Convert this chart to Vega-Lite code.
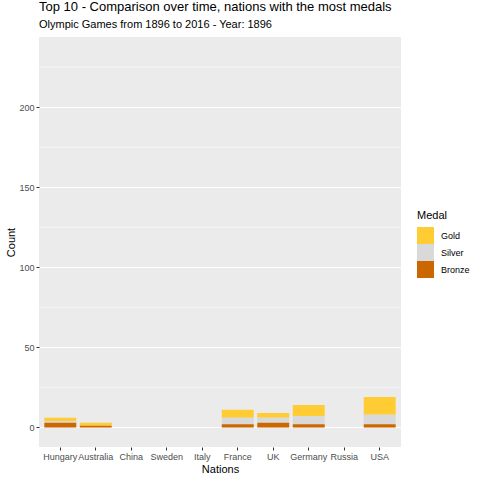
{
  "$schema": "https://vega.github.io/schema/vega-lite/v6.json",
  "autosize": "none",
  "width": 362,
  "height": 410,
  "padding": {"left": 39, "top": 37, "right": 79, "bottom": 33},
  "background": "white",
  "config": {
    "font": "Liberation Sans",
    "view": {"fill": "#EBEBEB", "stroke": null},
    "axis": {
      "labelFont": "Liberation Sans", "titleFont": "Liberation Sans",
      "labelColor": "#4D4D4D", "labelFontSize": 9, "titleFontSize": 11,
      "titleFontWeight": "normal", "titleColor": "black",
      "tickColor": "#333333", "tickSize": 3, "domain": false,
      "gridColor": "white", "gridWidth": 1.1
    },
    "legend": {"labelFont": "Liberation Sans", "titleFont": "Liberation Sans"}
  },
  "title": {
    "text": "Top 10 - Comparison over time, nations with the most medals",
    "subtitle": "Olympic Games from 1896 to 2016 - Year: 1896",
    "anchor": "start", "frame": "group",
    "font": "Liberation Sans", "fontSize": 13, "fontWeight": "normal", "color": "black",
    "subtitleFont": "Liberation Sans", "subtitleFontSize": 11, "subtitleColor": "black",
    "subtitlePadding": 5, "offset": 7
  },
  "layer": [
    {
      "data": {"values": [{"v": 25}, {"v": 75}, {"v": 125}, {"v": 175}, {"v": 225}]},
      "mark": {"type": "rule", "color": "white", "strokeWidth": 0.55},
      "encoding": {"y": {"field": "v", "type": "quantitative"}}
    },
    {
      "data": {"values": [
        {"Nation": "Hungary", "Medal": "Gold", "Count": 2},
        {"Nation": "Hungary", "Medal": "Silver", "Count": 1},
        {"Nation": "Hungary", "Medal": "Bronze", "Count": 3},
        {"Nation": "Australia", "Medal": "Gold", "Count": 2},
        {"Nation": "Australia", "Medal": "Silver", "Count": 0},
        {"Nation": "Australia", "Medal": "Bronze", "Count": 1},
        {"Nation": "France", "Medal": "Gold", "Count": 5},
        {"Nation": "France", "Medal": "Silver", "Count": 4},
        {"Nation": "France", "Medal": "Bronze", "Count": 2},
        {"Nation": "UK", "Medal": "Gold", "Count": 3},
        {"Nation": "UK", "Medal": "Silver", "Count": 3},
        {"Nation": "UK", "Medal": "Bronze", "Count": 3},
        {"Nation": "Germany", "Medal": "Gold", "Count": 7},
        {"Nation": "Germany", "Medal": "Silver", "Count": 5},
        {"Nation": "Germany", "Medal": "Bronze", "Count": 2},
        {"Nation": "USA", "Medal": "Gold", "Count": 11},
        {"Nation": "USA", "Medal": "Silver", "Count": 6},
        {"Nation": "USA", "Medal": "Bronze", "Count": 2}
      ]},
      "mark": {"type": "bar"},
      "encoding": {
        "x": {
          "field": "Nation", "type": "nominal", "title": "Nations",
          "scale": {
            "domain": ["Hungary", "Australia", "China", "Sweden", "Italy", "France", "UK", "Germany", "Russia", "USA"],
            "paddingInner": 0.1, "paddingOuter": 0.15
          },
          "axis": {"labelAngle": 0, "bandPosition": 0.5, "labelPadding": 2, "titlePadding": 2}
        },
        "y": {
          "field": "Count", "type": "quantitative", "aggregate": "sum", "stack": "zero", "title": "Count",
          "scale": {"domain": [-12.2, 243.8], "nice": false},
          "axis": {"values": [0, 50, 100, 150, 200], "labelPadding": 2, "titlePadding": 2}
        },
        "color": {
          "field": "Medal", "type": "nominal",
          "scale": {"domain": ["Gold", "Silver", "Bronze"], "range": ["#FFCC33", "#D9D9D9", "#CC6600"]},
          "legend": {
            "orient": "none", "legendX": 378, "legendY": 173,
            "symbolType": "square", "symbolSize": 289, "symbolStrokeWidth": 0,
            "symbolOpacity": 1, "rowPadding": 0, "labelFontSize": 9, "labelOffset": 7,
            "titleFontSize": 11, "titleFontWeight": "normal", "titlePadding": 6
          }
        },
        "order": {"field": "MedalOrder", "type": "quantitative"}
      },
      "transform": [
        {"calculate": "datum.Medal === 'Bronze' ? 0 : datum.Medal === 'Silver' ? 1 : 2", "as": "MedalOrder"}
      ]
    }
  ]
}
